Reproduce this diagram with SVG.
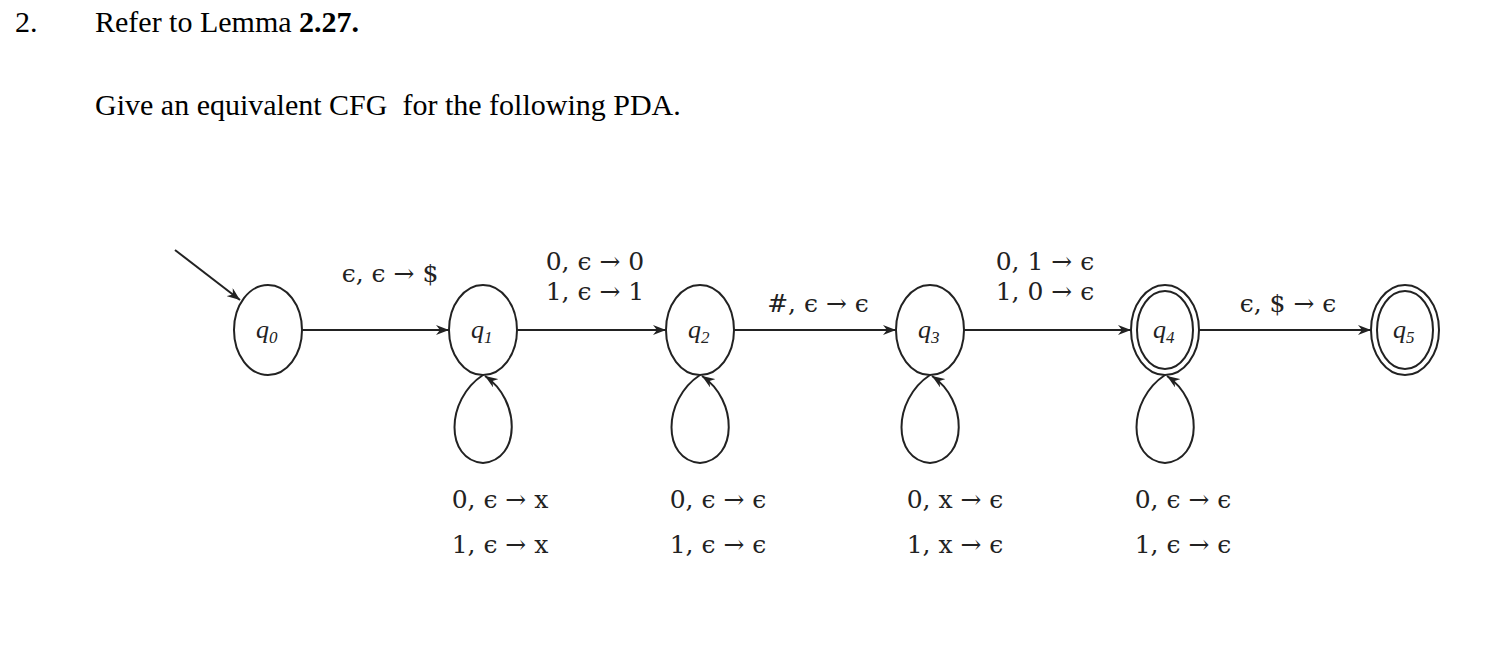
<svg xmlns="http://www.w3.org/2000/svg" width="1488" height="652" viewBox="0 0 1488 652">
<style>
.t{font-family:"Liberation Serif",serif;font-size:30px;fill:#000}
.s{fill:none;stroke:#222;stroke-width:2}
.q{font-family:"Liberation Serif",serif;font-style:italic;font-size:26px;fill:#222}
.l{font-family:"DejaVu Serif","Liberation Serif",serif;font-size:25px;fill:#222}
.e{fill:none;stroke:#222;stroke-width:2}
</style>
<defs><marker id="a" markerWidth="14" markerHeight="10" refX="13" refY="5" orient="auto" markerUnits="userSpaceOnUse"><path d="M0,0 L13,5 L0,10 L4,5 Z" fill="#222"/></marker></defs>
<rect width="1488" height="652" fill="#fff"/>
<text class="t" x="15" y="32">2.</text>
<text class="t" x="95" y="32">Refer to Lemma <tspan font-weight="bold">2.27.</tspan></text>
<text class="t" x="95" y="115" xml:space="preserve">Give an equivalent CFG  for the following PDA.</text>
<g id="q0"><ellipse class="s" cx="268" cy="330" rx="34" ry="45"/><text class="q" x="256" y="338">q<tspan font-size="17" dy="5">0</tspan></text></g>
<g id="q1"><ellipse class="s" cx="483" cy="330" rx="34" ry="45"/><text class="q" x="471" y="338">q<tspan font-size="17" dy="5">1</tspan></text></g>
<g id="q2"><ellipse class="s" cx="700" cy="330" rx="34" ry="45"/><text class="q" x="688" y="338">q<tspan font-size="17" dy="5">2</tspan></text></g>
<g id="q3"><ellipse class="s" cx="930" cy="330" rx="34" ry="45"/><text class="q" x="918" y="338">q<tspan font-size="17" dy="5">3</tspan></text></g>
<g id="q4"><ellipse class="s" cx="1165" cy="330" rx="34" ry="45"/><ellipse class="s" cx="1165" cy="330" rx="28" ry="39"/><text class="q" x="1153" y="338">q<tspan font-size="17" dy="5">4</tspan></text></g>
<g id="q5"><ellipse class="s" cx="1405" cy="330" rx="34" ry="45"/><ellipse class="s" cx="1405" cy="330" rx="28" ry="39"/><text class="q" x="1393" y="338">q<tspan font-size="17" dy="5">5</tspan></text></g>
<g id="connectors">
<path class="e" d="M175,250 L240,300" marker-end="url(#a)"/>
<path class="e" d="M302,330 L449,330" marker-end="url(#a)"/>
<path class="e" d="M517,330 L666,330" marker-end="url(#a)"/>
<path class="e" d="M734,330 L896,330" marker-end="url(#a)"/>
<path class="e" d="M964,330 L1131,330" marker-end="url(#a)"/>
<path class="e" d="M1199,330 L1371,330" marker-end="url(#a)"/>
<path class="e" d="M483,375 C445,400 445,460 483,463 C521,460 521,400 485,376" marker-end="url(#a)"/>
<path class="e" d="M700,375 C662,400 662,460 700,463 C738,460 738,400 702,376" marker-end="url(#a)"/>
<path class="e" d="M930,375 C892,400 892,460 930,463 C968,460 968,400 932,376" marker-end="url(#a)"/>
<path class="e" d="M1165,375 C1127,400 1127,460 1165,463 C1203,460 1203,400 1167,376" marker-end="url(#a)"/>
</g>
<g class="l" text-anchor="middle">
<text x="390" y="282">ϵ, ϵ → $</text>
<text x="595" y="270">0, ϵ → 0</text><text x="595" y="300">1, ϵ → 1</text>
<text x="818" y="312">#, ϵ → ϵ</text>
<text x="1045" y="270">0, 1 → ϵ</text><text x="1045" y="300">1, 0 → ϵ</text>
<text x="1288" y="312">ϵ, $ → ϵ</text>
<text x="500" y="508">0, ϵ → x</text><text x="500" y="553">1, ϵ → x</text>
<text x="718" y="508">0, ϵ → ϵ</text><text x="718" y="553">1, ϵ → ϵ</text>
<text x="955" y="508">0, x → ϵ</text><text x="955" y="553">1, x → ϵ</text>
<text x="1183" y="508">0, ϵ → ϵ</text><text x="1183" y="553">1, ϵ → ϵ</text>
</g>
</svg>
